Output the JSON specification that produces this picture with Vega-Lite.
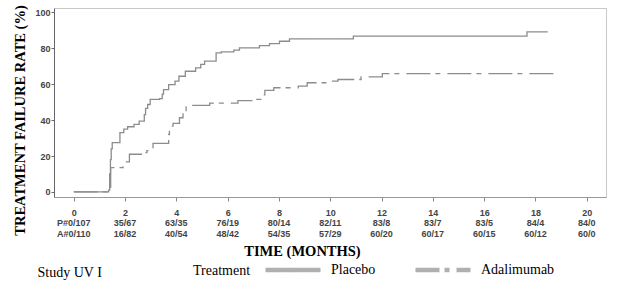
{
  "$schema": "https://vega.github.io/schema/vega-lite/v6.json",
  "background": "white",
  "padding": {"left": 12, "top": 4, "right": 5, "bottom": 0},
  "spacing": 20,
  "bounds": "flush",
  "config": {"view": {"stroke": null}, "font": "Liberation Sans"},
  "title": {"text": "Study UV I", "orient": "bottom", "anchor": "start", "font": "Liberation Serif", "fontSize": 14, "fontWeight": "normal", "color": "#000", "offset": 6, "dx": 25, "dy": -19},
  "datasets": {
    "km": [
      {"treatment": "Placebo", "month": 0, "rate": 0},
      {"treatment": "Placebo", "month": 1.32, "rate": 0},
      {"treatment": "Placebo", "month": 1.36, "rate": 1},
      {"treatment": "Placebo", "month": 1.4, "rate": 10},
      {"treatment": "Placebo", "month": 1.43, "rate": 18},
      {"treatment": "Placebo", "month": 1.46, "rate": 24},
      {"treatment": "Placebo", "month": 1.5, "rate": 27.5},
      {"treatment": "Placebo", "month": 1.8, "rate": 33},
      {"treatment": "Placebo", "month": 1.95, "rate": 35},
      {"treatment": "Placebo", "month": 2.1, "rate": 36.3},
      {"treatment": "Placebo", "month": 2.35, "rate": 37.6},
      {"treatment": "Placebo", "month": 2.55, "rate": 39.4},
      {"treatment": "Placebo", "month": 2.75, "rate": 43},
      {"treatment": "Placebo", "month": 2.8, "rate": 46.5},
      {"treatment": "Placebo", "month": 2.88, "rate": 48.7},
      {"treatment": "Placebo", "month": 2.98, "rate": 51.5},
      {"treatment": "Placebo", "month": 3.35, "rate": 52},
      {"treatment": "Placebo", "month": 3.45, "rate": 54.5},
      {"treatment": "Placebo", "month": 3.5, "rate": 57},
      {"treatment": "Placebo", "month": 3.7, "rate": 59.8},
      {"treatment": "Placebo", "month": 3.95, "rate": 61.7},
      {"treatment": "Placebo", "month": 4.1, "rate": 64.4},
      {"treatment": "Placebo", "month": 4.35, "rate": 67.2},
      {"treatment": "Placebo", "month": 4.75, "rate": 69.1},
      {"treatment": "Placebo", "month": 4.95, "rate": 71},
      {"treatment": "Placebo", "month": 5.1, "rate": 72.8},
      {"treatment": "Placebo", "month": 5.55, "rate": 77.4},
      {"treatment": "Placebo", "month": 5.75, "rate": 78},
      {"treatment": "Placebo", "month": 6.24, "rate": 78.9},
      {"treatment": "Placebo", "month": 6.46, "rate": 80.2},
      {"treatment": "Placebo", "month": 7.24, "rate": 81.5},
      {"treatment": "Placebo", "month": 7.63, "rate": 82.6},
      {"treatment": "Placebo", "month": 8.02, "rate": 83.9},
      {"treatment": "Placebo", "month": 8.41, "rate": 85.2},
      {"treatment": "Placebo", "month": 10.9, "rate": 86.7},
      {"treatment": "Placebo", "month": 17.67, "rate": 89.1},
      {"treatment": "Placebo", "month": 18.48, "rate": 89.1},
      {"treatment": "Adalimumab", "month": 0, "rate": 0},
      {"treatment": "Adalimumab", "month": 1.38, "rate": 0},
      {"treatment": "Adalimumab", "month": 1.44, "rate": 13.5},
      {"treatment": "Adalimumab", "month": 1.92, "rate": 15.4},
      {"treatment": "Adalimumab", "month": 2.0, "rate": 16.7},
      {"treatment": "Adalimumab", "month": 2.17, "rate": 21},
      {"treatment": "Adalimumab", "month": 2.7, "rate": 21.9},
      {"treatment": "Adalimumab", "month": 2.85, "rate": 23},
      {"treatment": "Adalimumab", "month": 2.95, "rate": 24.1},
      {"treatment": "Adalimumab", "month": 3.09, "rate": 27},
      {"treatment": "Adalimumab", "month": 3.7, "rate": 32},
      {"treatment": "Adalimumab", "month": 3.73, "rate": 36.7},
      {"treatment": "Adalimumab", "month": 3.87, "rate": 38.2},
      {"treatment": "Adalimumab", "month": 4.12, "rate": 41.3},
      {"treatment": "Adalimumab", "month": 4.26, "rate": 44.1},
      {"treatment": "Adalimumab", "month": 4.38, "rate": 47.4},
      {"treatment": "Adalimumab", "month": 4.45, "rate": 48.2},
      {"treatment": "Adalimumab", "month": 5.3, "rate": 49.5},
      {"treatment": "Adalimumab", "month": 6.4, "rate": 50.8},
      {"treatment": "Adalimumab", "month": 7.1, "rate": 51.5},
      {"treatment": "Adalimumab", "month": 7.3, "rate": 54},
      {"treatment": "Adalimumab", "month": 7.45, "rate": 56.5},
      {"treatment": "Adalimumab", "month": 7.8, "rate": 58},
      {"treatment": "Adalimumab", "month": 8.75, "rate": 58.9},
      {"treatment": "Adalimumab", "month": 9.1, "rate": 60.8},
      {"treatment": "Adalimumab", "month": 10.0, "rate": 61.7},
      {"treatment": "Adalimumab", "month": 10.3, "rate": 62.6},
      {"treatment": "Adalimumab", "month": 11.2, "rate": 64.1},
      {"treatment": "Adalimumab", "month": 12.03, "rate": 65.9},
      {"treatment": "Adalimumab", "month": 18.7, "rate": 65.9}
    ],
    "risk": [
      {"group": "P", "month": 0, "label": "P#0/107"},
      {"group": "P", "month": 2, "label": "35/67"},
      {"group": "P", "month": 4, "label": "63/35"},
      {"group": "P", "month": 6, "label": "76/19"},
      {"group": "P", "month": 8, "label": "80/14"},
      {"group": "P", "month": 10, "label": "82/11"},
      {"group": "P", "month": 12, "label": "83/8"},
      {"group": "P", "month": 14, "label": "83/7"},
      {"group": "P", "month": 16, "label": "83/5"},
      {"group": "P", "month": 18, "label": "84/4"},
      {"group": "P", "month": 20, "label": "84/0"},
      {"group": "A", "month": 0, "label": "A#0/110"},
      {"group": "A", "month": 2, "label": "16/82"},
      {"group": "A", "month": 4, "label": "40/54"},
      {"group": "A", "month": 6, "label": "48/42"},
      {"group": "A", "month": 8, "label": "54/35"},
      {"group": "A", "month": 10, "label": "57/29"},
      {"group": "A", "month": 12, "label": "60/20"},
      {"group": "A", "month": 14, "label": "60/17"},
      {"group": "A", "month": 16, "label": "60/15"},
      {"group": "A", "month": 18, "label": "60/12"},
      {"group": "A", "month": 20, "label": "60/0"}
    ]
  },
  "vconcat": [
    {
      "width": 552,
      "height": 189,
      "view": {"stroke": "#c8c8c8", "strokeWidth": 1},
      "data": {"name": "km"},
      "layer": [
        {
          "mark": {"type": "line", "interpolate": "step-after", "strokeWidth": 1.3, "color": "#8c8c8c"},
          "encoding": {
            "x": {
              "field": "month", "type": "quantitative",
              "scale": {"domain": [-0.77, 20.75], "nice": false, "zero": false},
              "axis": {"values": [0, 2, 4, 6, 8, 10, 12, 14, 16, 18, 20], "title": null, "grid": false,
                "labelFont": "Liberation Sans", "labelFontWeight": "bold", "labelFontSize": 9, "labelColor": "#444",
                "tickSize": 4, "tickColor": "#888", "domainColor": "#999", "labelPadding": 7, "labelFlush": false}
            },
            "y": {
              "field": "rate", "type": "quantitative",
              "scale": {"domain": [-2.8, 102.4], "nice": false},
              "axis": {"values": [0, 20, 40, 60, 80, 100], "grid": false,
                "title": "TREATMENT FAILURE RATE (%)", "titleFont": "Liberation Serif", "titleFontSize": 14.5,
                "titleFontWeight": "bold", "titleColor": "#000", "titlePadding": 7, "titleY": 112,
                "labelFont": "Liberation Sans", "labelFontWeight": "bold", "labelFontSize": 9, "labelColor": "#444",
                "tickSize": 3, "tickColor": "#666", "domainColor": "#666", "labelPadding": 1, "labelFlush": false,
                "tickMinorStep": 5, "minorTickSize": 2, "minorTickColor": "#888", "minorTickWidth": 1}
            },
            "strokeDash": {
              "field": "treatment", "type": "nominal",
              "scale": {"domain": ["Placebo", "Adalimumab"], "range": [[1, 0], [24, 5, 5, 7]]},
              "legend": {
                "title": "Treatment", "orient": "none", "legendX": 139, "legendY": 232, "direction": "horizontal",
                "titleOrient": "left", "titleFont": "Liberation Serif", "titleFontSize": 14, "titleFontWeight": "normal",
                "titleColor": "#000", "titlePadding": 12, "titleBaseline": "middle",
                "labelFont": "Liberation Serif", "labelFontSize": 14, "labelFontWeight": "normal", "labelColor": "#000", "labelOffset": 8,
                "labelBaseline": "middle",
                "symbolType": "stroke", "symbolSize": 3025, "symbolStrokeWidth": 4.5, "columnPadding": 30,
                "symbolStrokeColor": "#b0b0b0",
                "encode": {
                  "symbols": {"update": {"strokeDash": {"signal": "datum.value === 'Adalimumab' ? [8, 4] : [1, 0]"}, "stroke": {"value": "#b0b0b0"}}},
                  "labels": {"update": {"font": {"value": "Liberation Serif"}, "fontWeight": {"value": "normal"}, "fill": {"value": "#000"}}},
                  "title": {"update": {"dy": {"value": 11}}}
                }
              }
            }
          }
        }
      ]
    },
    {
      "width": 552,
      "height": 23,
      "data": {"name": "risk"},
      "mark": {"type": "text", "font": "Liberation Sans", "fontWeight": "bold", "fontSize": 9, "color": "#444"},
      "encoding": {
        "x": {
          "field": "month", "type": "quantitative",
          "scale": {"domain": [-0.77, 20.75], "nice": false, "zero": false},
          "axis": {"title": "TIME (MONTHS)", "labels": false, "ticks": false, "domain": false, "grid": false,
            "titleFont": "Liberation Serif", "titleFontSize": 14.5, "titleFontWeight": "bold", "titleColor": "#000",
            "titlePadding": 4, "titleX": 248, "titleAnchor": "middle"}
        },
        "y": {"field": "group", "type": "nominal", "sort": ["P", "A"], "axis": null},
        "text": {"field": "label"}
      }
    }
  ]
}
